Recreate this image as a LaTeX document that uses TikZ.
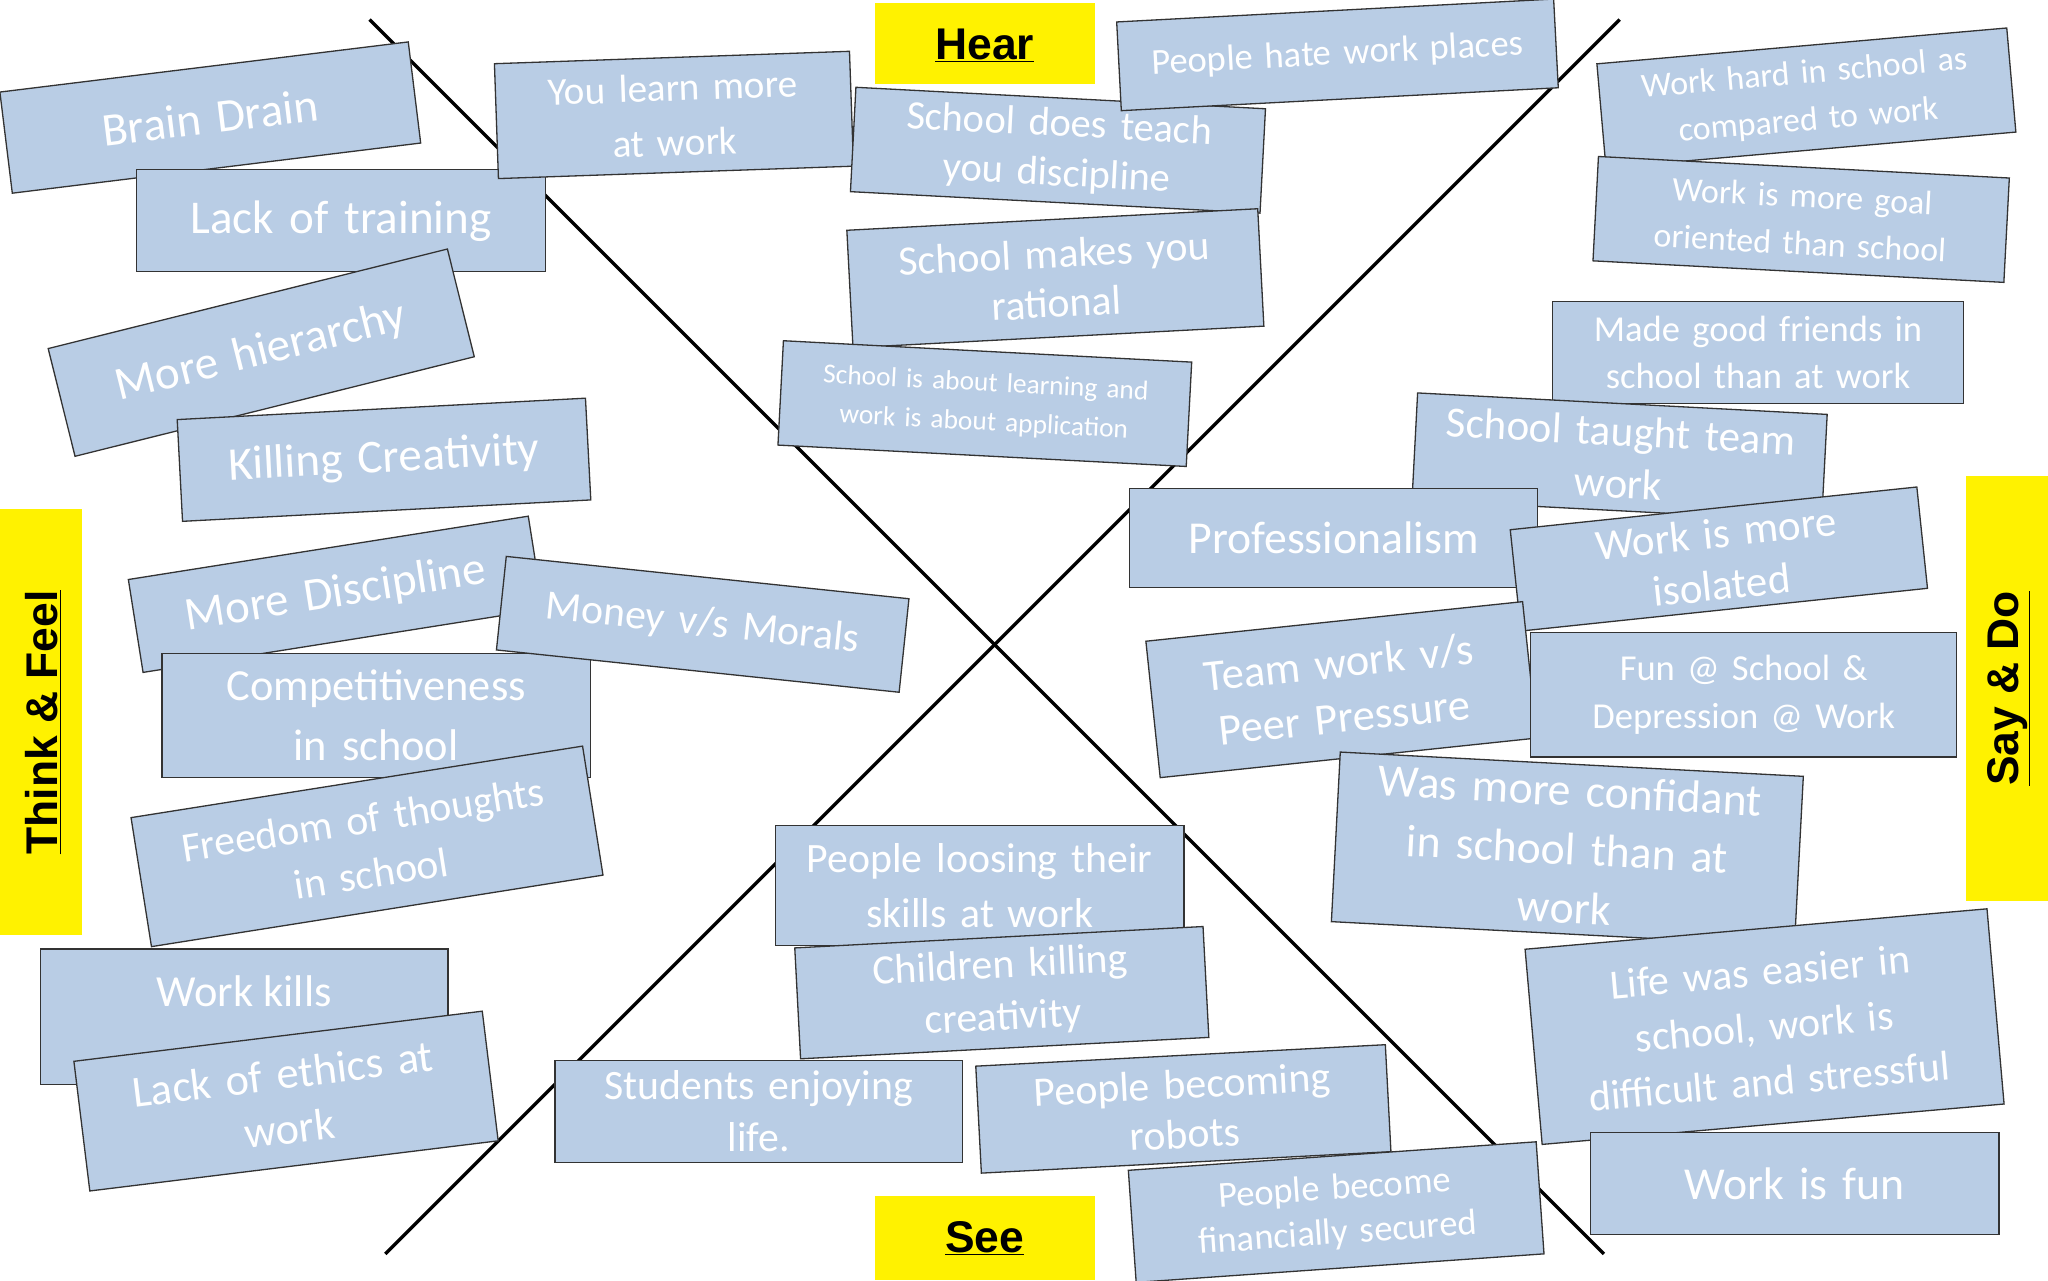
\documentclass[tikz,border=0pt]{standalone}
\usepackage{fontspec}
\setmainfont{Carlito}
\newfontfamily\labfont{Liberation Sans}
\begin{document}
\begin{tikzpicture}[x=1pt,y=-1pt,
 note/.style={draw=black!80,line width=1pt,fill={rgb,255:red,185;green,205;blue,229},text=white,align=center,inner sep=2pt},
 lab/.style={fill=yellow,inner sep=0pt},
 labt/.style={font=\labfont\bfseries\fontsize{34}{38}\selectfont,text=black,inner sep=0pt}]
\useasboundingbox (0,0) rectangle (1568,980);
\coordinate (l1a) at (283,15); \coordinate (l1b) at (1228,960);
\coordinate (l2a) at (1240,15); \coordinate (l2b) at (295,960);
\draw[line width=2.5pt] (l1a) -- (l1b);
\draw[line width=2.5pt] (l2a) -- (l2b);
\newcommand\N[9]{\node[note,minimum width=#4,minimum height=#5,text width=#4-14,rotate=#6,font=\fontsize{#7}{#8}\selectfont] (#1) at (#2,#3) {#9};}
\N{n1}{161}{90}{315}{78}{7}{36}{40}{Brain Drain}
\N{n2}{261}{169}{313}{78}{0}{36}{40}{Lack of training}
\N{n3}{200}{270}{315}{85}{14}{36}{40}{More hierarchy}
\N{n4}{294}{352}{313}{78}{3}{36}{40}{Killing Creativity}
\N{n5}{257}{455}{310}{72}{9}{36}{40}{More Discipline}
\N{n7}{288}{548}{328}{95}{0}{34}{46}{Competitiveness\\in school}
\N{n6}{538}{478}{310}{72}{-6}{32}{38}{Money v/s Morals}
\N{n8}{281}{648}{350}{100}{9}{32}{42}{Freedom of thoughts\\in school}
\node[note,minimum width=312,minimum height=104,anchor=north,font=\fontsize{34}{40}\selectfont] (n9) at (187,726) {Work kills\\ \phantom{x}};
\N{n10}{219}{843}{315}{100}{7}{34}{42}{Lack of ethics at\\work}
\N{n11}{516}{88}{272}{88}{2}{30}{42}{You learn more\\at work}
\N{n12}{810}{115}{314}{80}{-3}{31}{38}{School does teach\\you discipline}
\N{n13}{808}{213}{315}{90}{3}{32}{38}{School makes you\\rational}
\N{n14}{754}{309}{313}{80}{-3}{21}{30}{School is about learning and\\work is about application}
\N{n15}{1024}{42}{335}{68}{3}{28}{32}{People hate work places}
\N{n16}{1383}{75}{315}{80}{5}{26}{36}{Work hard in school as\\compared to work}
\N{n17}{1379}{168}{315}{80}{-3}{26}{36}{Work is more goal\\oriented than school}
\N{n18}{1346}{270}{315}{78}{0}{28}{36}{Made good friends in\\school than at work}
\N{n19}{1240}{350}{314}{82}{-3}{33}{40}{School taught team\\work}
\N{n20}{1021}{412}{312}{76}{0}{35}{40}{Professionalism}
\N{n21}{1316}{428}{313}{78}{6}{33}{40}{Work is more\\isolated}
\N{n22}{1027}{528}{290}{105}{6}{34}{42}{Team work v/s\\Peer Pressure}
\N{n23}{1335}{532}{326}{95}{0}{28}{37}{Fun @ School \&\\Depression @ Work}
\N{n24}{1200}{650}{355}{130}{-3}{35}{45}{Was more confidant\\in school than at\\work}
\N{n25}{1351}{786}{355}{150}{5}{32}{42}{Life was easier in\\school, work is\\difficult and stressful}
\N{n26}{1374}{906}{313}{78}{0}{35}{40}{Work is fun}
\N{n27}{750}{678}{313}{92}{0}{32}{42}{People loosing their\\skills at work}
\N{n28}{767}{760}{313}{85}{3}{32}{40}{Children killing\\creativity}
\N{n29}{581}{851}{312}{78}{0}{32}{40}{Students enjoying\\life.}
\N{n30}{906}{849}{314}{82}{3}{32}{38}{People becoming\\robots}
\N{n31}{1023}{928}{313}{86}{4}{28}{34}{People become\\financially secured}
\node[lab,minimum width=168,minimum height=62] (hear) at (754,33) {};
\node[labt] (heart) at (754,35) {\underline{Hear}};
\node[lab,minimum width=168,minimum height=64] (see) at (754,948) {};
\node[labt] (seet) at (754,948) {\underline{See}};
\node[lab,minimum width=63,minimum height=326] (tf) at (31.5,553) {};
\node[labt,rotate=90] (tft) at (33,553) {\underline{Think \& Feel}};
\node[lab,minimum width=63,minimum height=325] (sd) at (1536.5,527) {};
\node[labt,rotate=90] (sdt) at (1538,527) {\underline{Say \& Do}};
\end{tikzpicture}
\end{document}
